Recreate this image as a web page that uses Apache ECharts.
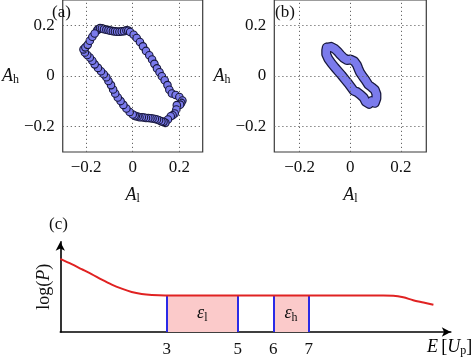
<!DOCTYPE html>
<html><head><meta charset="utf-8">
<script src="https://cdn.jsdelivr.net/npm/echarts@6/dist/echarts.min.js"></script>
<style>html,body{margin:0;padding:0;background:#fff}#c{width:474px;height:358px}</style>
</head><body><div id="c"></div>
<script>
// ---- data ----
const loopA = [
[-0.152,0.181],[-0.147,0.185],[-0.140,0.189],[-0.132,0.188],[-0.123,0.185],[-0.113,0.183],[-0.104,0.181],
[-0.095,0.179],[-0.085,0.177],[-0.076,0.176],[-0.067,0.175],[-0.057,0.175],[-0.047,0.176],[-0.037,0.177],
[-0.027,0.180],[-0.019,0.179],[-0.011,0.174],
[0.004,0.163],[0.017,0.150],[0.031,0.134],[0.044,0.117],[0.057,0.099],[0.071,0.082],[0.083,0.065],
[0.093,0.048],[0.104,0.030],[0.115,0.015],[0.125,-0.001],[0.137,-0.017],[0.149,-0.036],[0.157,-0.054],
[0.168,-0.069],[0.184,-0.075],[0.200,-0.083],[0.213,-0.097],[0.208,-0.106],[0.203,-0.113],[0.189,-0.115],
[0.187,-0.132],[0.180,-0.148],[0.171,-0.155],[0.163,-0.159],[0.151,-0.172],[0.140,-0.185],
[0.132,-0.181],[0.123,-0.179],[0.113,-0.175],[0.104,-0.172],[0.095,-0.170],[0.085,-0.168],[0.076,-0.167],
[0.067,-0.166],[0.057,-0.166],[0.048,-0.164],[0.039,-0.163],[0.029,-0.163],[0.021,-0.160],[0.013,-0.159],
[0.008,-0.156],[0.000,-0.152],
[-0.013,-0.142],[-0.027,-0.128],[-0.040,-0.114],[-0.052,-0.099],[-0.064,-0.085],[-0.075,-0.069],
[-0.084,-0.053],[-0.093,-0.036],[-0.104,-0.020],[-0.113,-0.005],[-0.124,0.007],[-0.136,0.019],
[-0.149,0.032],[-0.163,0.046],[-0.173,0.060],[-0.184,0.073],[-0.195,0.083],
[-0.205,0.093],[-0.211,0.105],[-0.203,0.113],[-0.193,0.123],[-0.184,0.139],[-0.173,0.155],[-0.163,0.168]
];
const loopB = [
[-0.093,0.112],[-0.076,0.115],[-0.061,0.107],[-0.050,0.097],[-0.039,0.084],[-0.026,0.071],[-0.013,0.063],
[0.001,0.065],[0.016,0.058],[0.026,0.044],[0.032,0.029],[0.039,0.013],[0.050,-0.003],[0.061,-0.018],
[0.071,-0.034],[0.084,-0.044],[0.097,-0.055],[0.103,-0.071],[0.103,-0.089],[0.097,-0.106],[0.084,-0.099],
[0.074,-0.110],[0.061,-0.102],[0.053,-0.086],[0.039,-0.073],[0.026,-0.063],[0.013,-0.058],[0.003,-0.044],
[-0.008,-0.029],[-0.021,-0.013],[-0.034,0.003],[-0.047,0.018],[-0.061,0.034],[-0.074,0.050],[-0.087,0.068],
[-0.095,0.086],[-0.095,0.102],[-0.093,0.112]
];
const gridTicks = [-0.2, 0, 0.2];
const curveE    = [0, 0.32, 0.60, 0.88, 1.17, 1.45, 1.73, 2.01, 2.29, 2.58, 2.95, 5.0, 7.0, 9.10, 9.38, 9.66, 9.94, 10.23, 10.51];
const curveLogP = [7.37, 6.84, 6.34, 5.84, 5.27, 4.77, 4.37, 4.04, 3.84, 3.74, 3.69, 3.68, 3.68, 3.68, 3.66, 3.50, 3.20, 2.97, 2.74];
const bandEdges = [[3, 5], [6, 7]];
const bandSubs  = ['l', 'h'];
const plateau   = 3.68;
const eTicks    = [3, 5, 6, 7];

// ---- styles ----
const FONT = '"Liberation Serif","DejaVu Serif",serif';
const TXT = '#111';
const FILL = '#7b7bec';
const EDGE = '#18183c';
const richAx = {
  i: {fontFamily: FONT, fontStyle: 'italic', fontSize: 18, color: TXT, lineHeight: 20},
  r: {fontFamily: FONT, fontSize: 18, color: TXT, lineHeight: 20},
  s: {fontFamily: FONT, fontSize: 12, color: TXT, lineHeight: 13, verticalAlign: 'bottom'}
};
function tickFmt(v) {
  const r = Math.round(v * 10);
  if (r === -2) return '\u22120.2';
  if (r === 0) return '0';
  if (r === 2) return '0.2';
  return '';
}
function sqAxis(idx, isX) {
  return {
    type: 'value', gridIndex: idx, min: -0.3, max: 0.3, interval: 0.1,
    axisLine: {show: false}, axisTick: {show: false}, splitLine: {show: false},
    axisLabel: {formatter: tickFmt, fontFamily: FONT, fontSize: 17, color: TXT, margin: isX ? 7 : 8,
      showMinLabel: false, showMaxLabel: false},
    name: isX ? '{i|A}{s|l}' : '{i|A}{s|h}',
    nameLocation: 'middle', nameRotate: 0, nameGap: isX ? 33 : 30,
    nameTextStyle: {rich: richAx}
  };
}
function gridLines(idx) {
  return {
    type: 'line', xAxisIndex: idx, yAxisIndex: idx, data: [], z: 1, silent: true,
    markLine: {
      silent: true, symbol: 'none', animation: false, label: {show: false},
      lineStyle: {type: [1.2, 2.8], color: '#666', width: 1},
      data: gridTicks.map(v => ({xAxis: v})).concat(gridTicks.map(v => ({yAxis: v})))
    }
  };
}
const chart = echarts.init(document.getElementById('c'), null, {renderer: 'canvas'});
const option = {
  animation: false,
  backgroundColor: '#fff',
  grid: [
    {left: 50.7, top: 0, width: 152, height: 152, show: true, borderColor: '#3a3a3a', borderWidth: 1.2},
    {left: 274.3, top: 0, width: 152, height: 152, show: true, borderColor: '#3a3a3a', borderWidth: 1.2},
    {left: 60.3, top: 241.7, width: 390.5, height: 91}
  ],
  xAxis: [
    sqAxis(0, true), sqAxis(1, true),
    {type: 'value', gridIndex: 2, min: 0, max: 11, interval: 1,
     axisLine: {show: true, symbol: ['none', 'arrow'], symbolSize: [7, 9], lineStyle: {color: '#000', width: 1.6}},
     axisTick: {show: false}, splitLine: {show: false},
     axisLabel: {formatter: v => eTicks.includes(v) ? String(v) : '', fontFamily: FONT, fontSize: 17, color: TXT, margin: 9}}
  ],
  yAxis: [
    sqAxis(0, false), sqAxis(1, false),
    {type: 'value', gridIndex: 2, min: 0, max: 9.1,
     axisLine: {show: true, symbol: ['none', 'arrow'], symbolSize: [7, 9], lineStyle: {color: '#000', width: 1.6}},
     axisTick: {show: false}, splitLine: {show: false}, axisLabel: {show: false},
     name: '{r|log(}{i|P}{r|)}', nameLocation: 'middle', nameRotate: 90, nameGap: 6,
     nameTextStyle: {rich: richAx}}
  ],
  graphic: [
    {type: 'text', left: 52, top: 4, style: {text: '(a)', font: '17px ' + FONT, fill: TXT}},
    {type: 'text', left: 275, top: 4, style: {text: '(b)', font: '17px ' + FONT, fill: TXT}},
    {type: 'text', left: 49, top: 216, style: {text: '(c)', font: '17px ' + FONT, fill: TXT}},
    {type: 'text', left: 427, top: 338, style: {text: '{i|E} {r|[}{i|U}{s|p}{r|]}', rich: richAx}}
  ],
  series: [
    gridLines(0), gridLines(1),
    {type: 'scatter', xAxisIndex: 0, yAxisIndex: 0, z: 3, data: loopA, symbolSize: 7.5,
     itemStyle: {color: FILL, borderColor: EDGE, borderWidth: 1.1, opacity: 1}},
    {type: 'line', xAxisIndex: 1, yAxisIndex: 1, z: 3, data: loopB, symbol: 'none',
     lineStyle: {color: EDGE, width: 10, join: 'round', cap: 'round'}},
    {type: 'line', xAxisIndex: 1, yAxisIndex: 1, z: 4, data: loopB, symbol: 'none',
     lineStyle: {color: FILL, width: 7.5, join: 'round', cap: 'round'}},
    {type: 'line', xAxisIndex: 2, yAxisIndex: 2, z: 2, data: [], silent: true,
     markArea: {silent: true, itemStyle: {color: '#fbcaca'},
       label: {show: true, position: 'inside', rich: {
         e: {fontFamily: FONT, fontStyle: 'italic', fontSize: 18, color: TXT, lineHeight: 20},
         s: {fontFamily: FONT, fontSize: 12, color: TXT, lineHeight: 13, verticalAlign: 'bottom'}}},
       data: bandEdges.map((b, k) => [
         {xAxis: b[0], yAxis: 0, label: {formatter: '{e|\u03b5}{s|' + bandSubs[k] + '}'}},
         {xAxis: b[1], yAxis: plateau}])},
     markLine: {silent: true, symbol: 'none', label: {show: false}, lineStyle: {color: '#2a2ae6', width: 2, type: 'solid'},
       data: bandEdges.flat().map(x => [{coord: [x, 0]}, {coord: [x, plateau]}])}},
    {type: 'line', xAxisIndex: 2, yAxisIndex: 2, z: 5, symbol: 'none', smooth: 0.3,
     data: curveE.map((e, k) => [e, curveLogP[k]]),
     lineStyle: {color: '#e02222', width: 2}}
  ]
};
chart.setOption(option);
</script></body></html>
